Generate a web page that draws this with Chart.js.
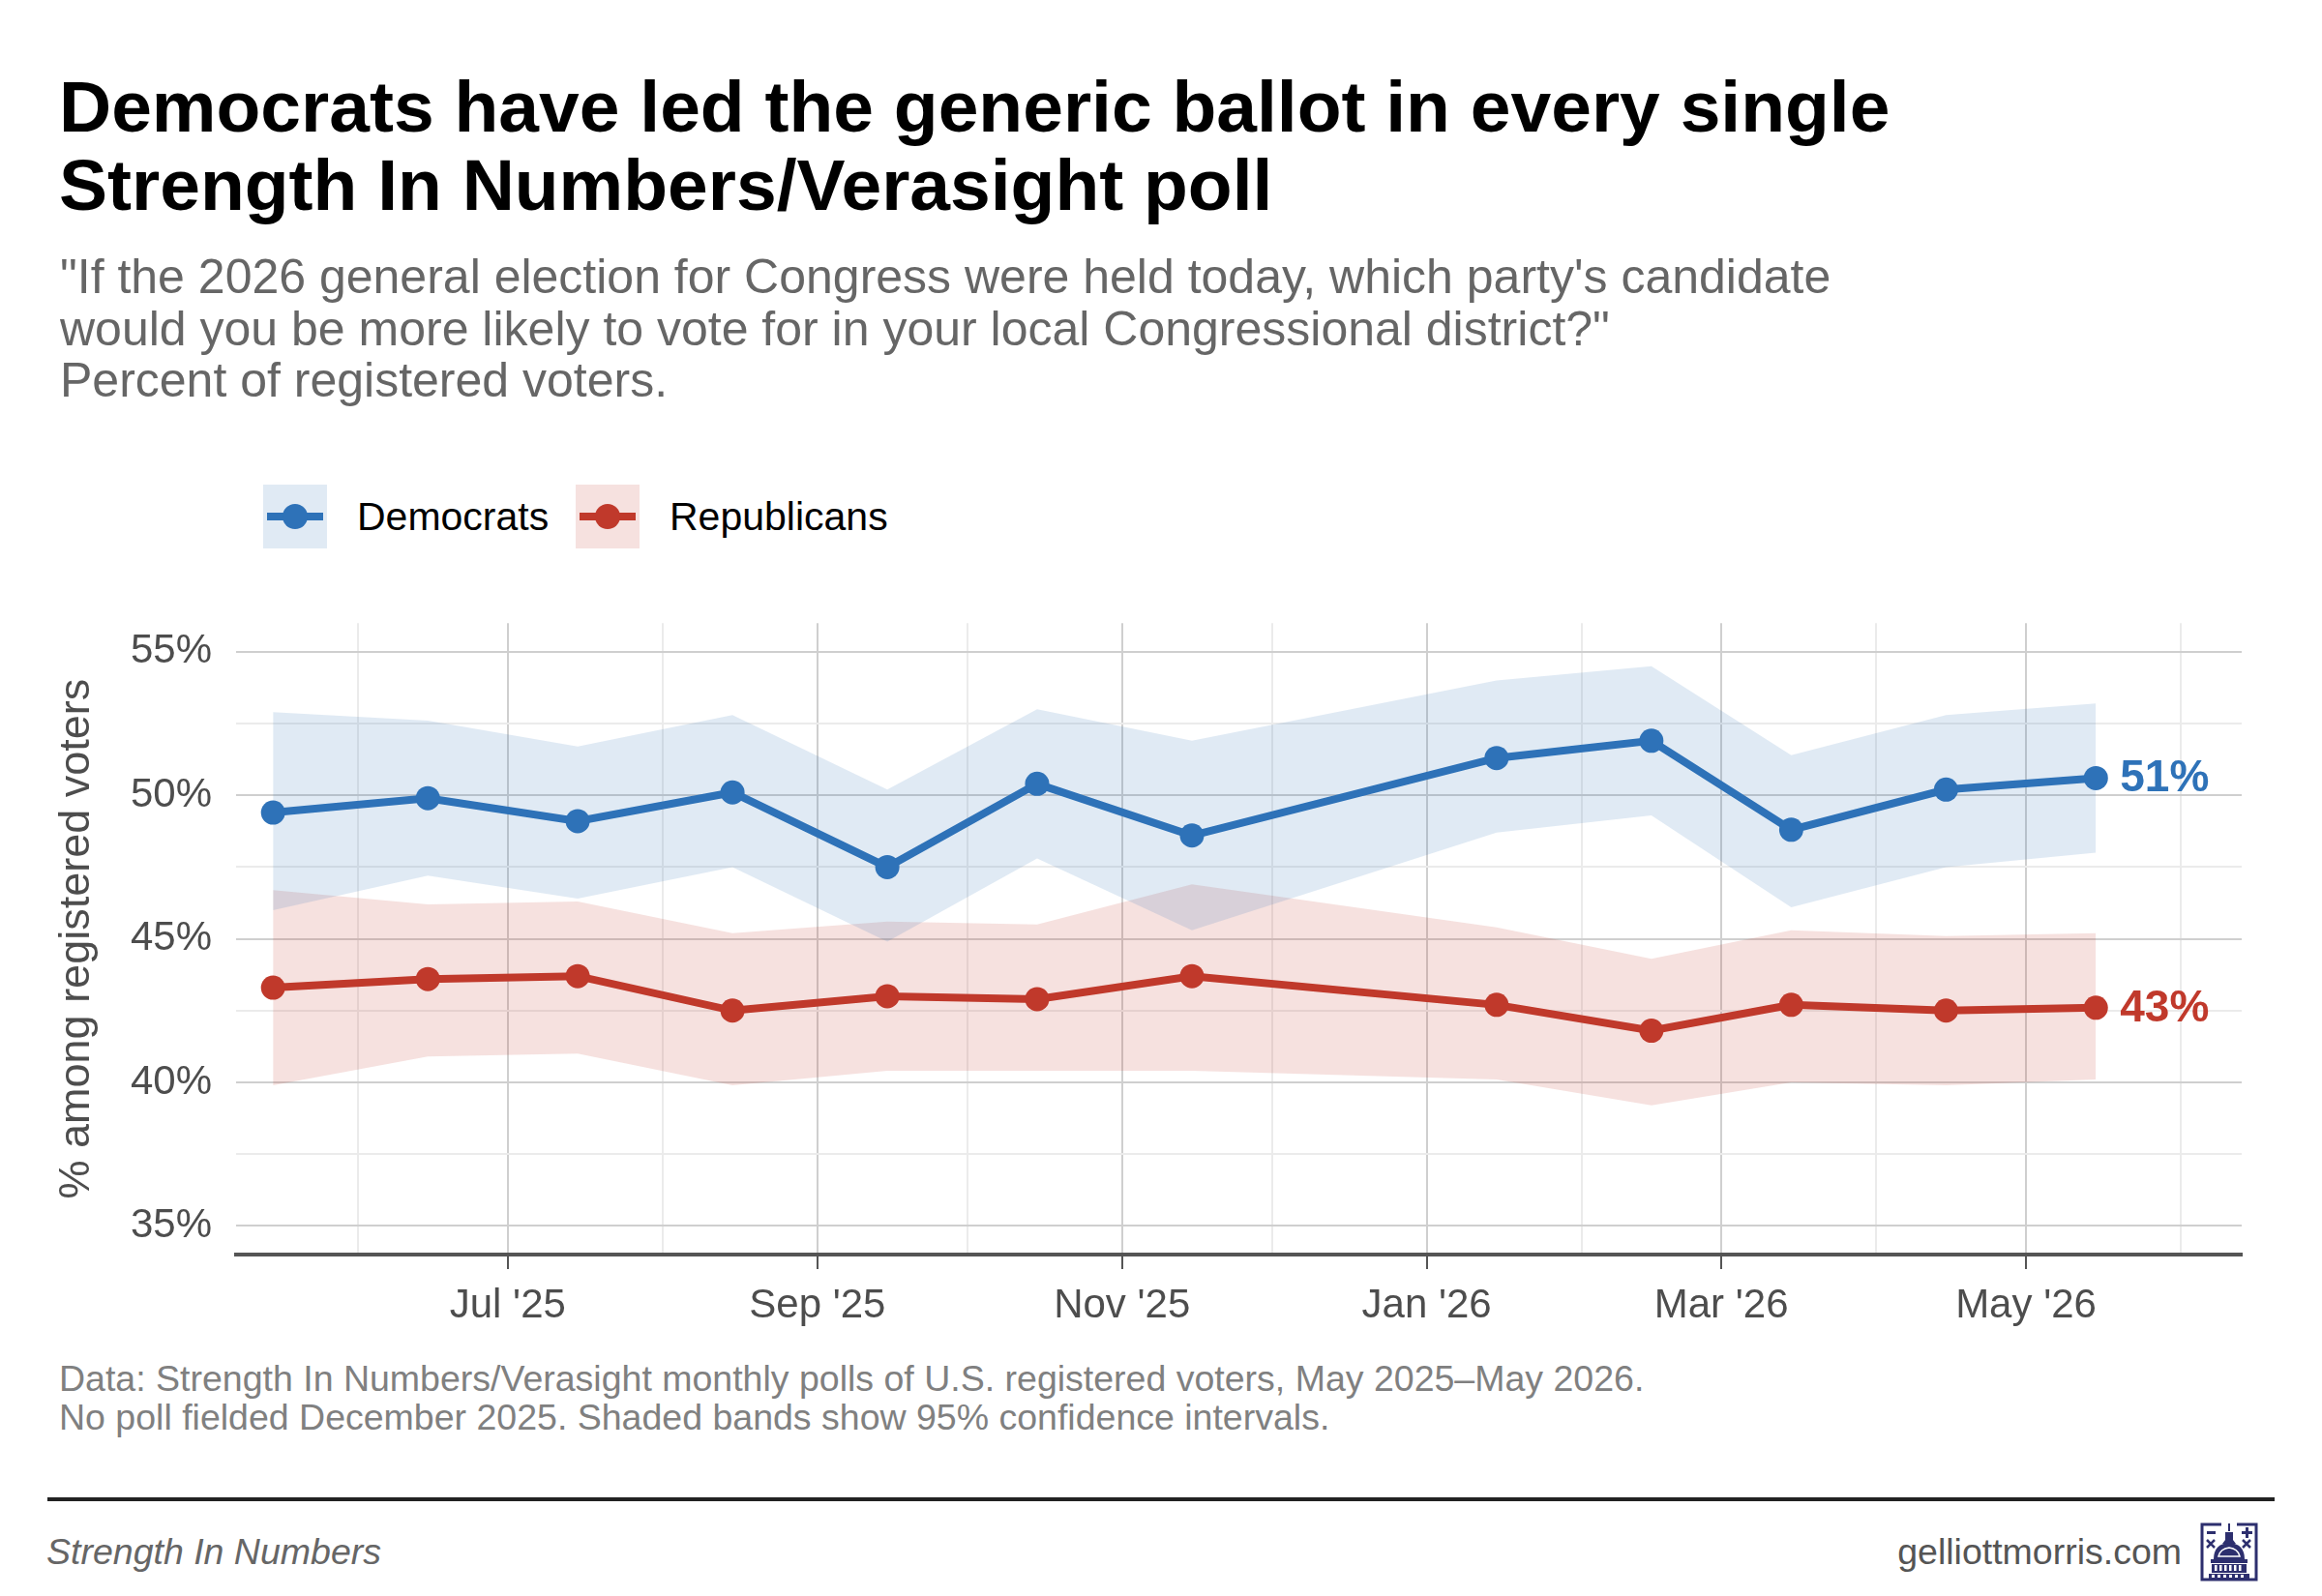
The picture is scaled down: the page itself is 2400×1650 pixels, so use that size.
<!DOCTYPE html>
<html>
<head>
<meta charset="utf-8">
<script src="https://cdn.jsdelivr.net/npm/chart.js@4.4.1/dist/chart.umd.min.js"></script>
<style>
html,body{margin:0;padding:0;background:#fff;}
body{width:2400px;height:1650px;position:relative;overflow:hidden;font-family:'Liberation Sans',Arial,Helvetica,sans-serif;}
#title{position:absolute;left:61px;top:70px;font-size:75px;line-height:81px;font-weight:bold;color:#000;white-space:nowrap;}
#subtitle{position:absolute;left:62px;top:260px;font-size:50px;line-height:53.5px;color:#666;white-space:nowrap;}
.key{position:absolute;top:501px;width:66px;height:66px;}
.key .ln{position:absolute;left:4px;top:29px;width:58px;height:8px;}
.key .dt{position:absolute;left:20px;top:20px;width:26px;height:26px;border-radius:50%;}
.ltxt{position:absolute;top:509px;font-size:41px;line-height:50px;color:#000;white-space:nowrap;}
#chartwrap{position:absolute;left:0;top:594px;width:2400px;height:806px;}
#chartwrap canvas{display:block;}
#caption{position:absolute;left:61px;top:1406px;font-size:37.5px;line-height:39.7px;color:#808080;white-space:nowrap;}
#rule{position:absolute;left:49px;top:1548px;width:2302px;height:4px;background:#222;}
#foot-l{position:absolute;left:48px;top:1584px;font-size:37.5px;line-height:41px;font-style:italic;color:#666;white-space:nowrap;}
#foot-r{position:absolute;right:145px;top:1584px;font-size:37.5px;line-height:41px;color:#555;white-space:nowrap;}
#logo{position:absolute;left:2274px;top:1574px;width:60px;height:61px;}
</style>
</head>
<body>
<div id="title">Democrats have led the generic ballot in every single<br>Strength In Numbers/Verasight poll</div>
<div id="subtitle">"If the 2026 general election for Congress were held today, which party's candidate<br>would you be more likely to vote for in your local Congressional district?"<br>Percent of registered voters.</div>

<div class="key" style="left:272px;background:rgba(46,114,184,0.15);"><div class="ln" style="background:#2E72B8"></div><div class="dt" style="background:#2E72B8"></div></div>
<div class="ltxt" style="left:369px;">Democrats</div>
<div class="key" style="left:595px;background:rgba(192,57,43,0.15);"><div class="ln" style="background:#C0392B"></div><div class="dt" style="background:#C0392B"></div></div>
<div class="ltxt" style="left:692px;">Republicans</div>

<div id="chartwrap"><canvas id="c" width="2400" height="806"></canvas></div>

<div id="caption">Data: Strength In Numbers/Verasight monthly polls of U.S. registered voters, May 2025–May 2026.<br>No poll fielded December 2025. Shaded bands show 95% confidence intervals.</div>
<div id="rule"></div>
<div id="foot-l">Strength In Numbers</div>
<div id="foot-r">gelliottmorris.com</div>
<svg id="logo" viewBox="0 0 60 61">
  <g fill="none" stroke="#2d2f6e" stroke-width="3">
    <path d="M22 2 H2 V59 H58 V2 H38"/>
  </g>
  <g fill="#2d2f6e">
    <rect x="7" y="9" width="9" height="3"/>
    <rect x="43" y="9" width="11" height="3"/><rect x="47" y="5" width="3" height="11"/>
    <path d="M7 18 l8 8 M15 18 l-8 8" stroke="#2d2f6e" stroke-width="2.5"/>
    <path d="M44 18 l8 8 M52 18 l-8 8" stroke="#2d2f6e" stroke-width="2.5"/>
    <rect x="29" y="1" width="2" height="8"/>
    <path d="M26 10 h8 v8 l3 4 h-14 l3 -4z"/>
    <path d="M14 38 Q14 22 30 21 Q46 22 46 38z"/>
    <rect x="11" y="38" width="38" height="4"/>
    <rect x="12" y="43" width="36" height="9"/>
    <rect x="9" y="53" width="42" height="5"/>
  </g>
  <g fill="#fff">
    <rect x="15" y="44" width="2.5" height="6"/><rect x="20" y="44" width="2.5" height="6"/><rect x="25" y="44" width="2.5" height="6"/><rect x="30" y="44" width="2.5" height="6"/><rect x="35" y="44" width="2.5" height="6"/><rect x="40" y="44" width="2.5" height="6"/>
    <rect x="12" y="54" width="3" height="3"/><rect x="18" y="54" width="3" height="3"/><rect x="24" y="54" width="3" height="3"/><rect x="30" y="54" width="3" height="3"/><rect x="36" y="54" width="3" height="3"/><rect x="42" y="54" width="3" height="3"/>
    <path d="M19 35 Q21 27 30 26 Q39 27 41 35z" fill="none" stroke="#fff" stroke-width="1.5"/>
  </g>
</svg>

<script>
// ---- data ----
const pollDates = ['2025-05-15','2025-06-15','2025-07-15','2025-08-15','2025-09-15','2025-10-15','2025-11-15','2026-01-15','2026-02-15','2026-03-15','2026-04-15','2026-05-15'];
const demPct  = [49.4, 49.9, 49.1, 50.1, 47.5, 50.4, 48.6, 51.3, 51.9, 48.8, 50.2, 50.6];
const demHigh = [52.9, 52.6, 51.7, 52.8, 50.2, 53.0, 51.9, 54.0, 54.5, 51.4, 52.8, 53.2];
const demLow  = [46.0, 47.2, 46.4, 47.5, 44.9, 47.8, 45.3, 48.7, 49.3, 46.1, 47.5, 48.0];
const repPct  = [43.3, 43.6, 43.7, 42.5, 43.0, 42.9, 43.7, 42.7, 41.8, 42.7, 42.5, 42.6];
const repHigh = [46.7, 46.2, 46.3, 45.2, 45.6, 45.5, 46.9, 45.4, 44.3, 45.3, 45.1, 45.2];
const repLow  = [39.9, 40.9, 41.0, 39.9, 40.4, 40.4, 40.4, 40.1, 39.2, 40.0, 39.9, 40.1];
const monthTicks = ['2025-06-01','2025-07-01','2025-08-01','2025-09-01','2025-10-01','2025-11-01','2025-12-01','2026-01-01','2026-02-01','2026-03-01','2026-04-01','2026-05-01','2026-06-01'];
const monthTickLabels = ['', "Jul '25", '', "Sep '25", '', "Nov '25", '', "Jan '26", '', "Mar '26", '', "May '26", ''];
const yTicks = [35, 37.5, 40, 42.5, 45, 47.5, 50, 52.5, 55];

const DEM = '#2E72B8', REP = '#C0392B';
const DEM_BAND = 'rgba(46,114,184,0.15)', REP_BAND = 'rgba(192,57,43,0.15)';
const FONT = "'Liberation Sans', Arial, Helvetica, sans-serif";

const dayNum = s => Date.parse(s + 'T00:00:00Z') / 86400000;
const pts = arr => arr.map((v, i) => ({x: dayNum(pollDates[i]), y: v}));
const tickLabelAt = v => {
  const i = monthTicks.findIndex(m => Math.abs(dayNum(m) - v) < 0.01);
  return i >= 0 ? monthTickLabels[i] : '';
};

Chart.defaults.font.family = FONT;

const endLabelPlugin = {
  id: 'endLabels',
  afterDatasetsDraw(chart) {
    const ctx = chart.ctx;
    chart.data.datasets.forEach((ds, i) => {
      if (!ds.endLabel) return;
      const meta = chart.getDatasetMeta(i);
      const el = meta.data[meta.data.length - 1];
      const v = ds.data[ds.data.length - 1].y;
      ctx.save();
      ctx.font = 'bold 46px ' + FONT;
      ctx.fillStyle = ds.borderColor;
      ctx.textAlign = 'left';
      ctx.textBaseline = 'middle';
      ctx.fillText(Math.round(v) + '%', el.x + 25, el.y + 1);
      ctx.restore();
    });
  }
};

const lineDs = (label, data, color) => ({
  label, data: pts(data), borderColor: color, backgroundColor: color,
  borderWidth: 8, pointRadius: 12.5, pointHoverRadius: 12.5, pointBorderWidth: 0,
  pointBackgroundColor: color, fill: false, tension: 0, endLabel: true
});
const bandDs = (label, data, color, fill) => ({
  label, data: pts(data), borderWidth: 0, borderColor: 'rgba(0,0,0,0)',
  pointRadius: 0, backgroundColor: color, fill: fill, tension: 0
});

new Chart(document.getElementById('c'), {
  type: 'line',
  data: {
    datasets: [
      lineDs('Democrats', demPct, DEM),
      lineDs('Republicans', repPct, REP),
      bandDs('Dem high', demHigh, DEM_BAND, '+1'),
      bandDs('Dem low', demLow, DEM_BAND, false),
      bandDs('Rep high', repHigh, REP_BAND, '+1'),
      bandDs('Rep low', repLow, REP_BAND, false)
    ]
  },
  options: {
    responsive: false,
    devicePixelRatio: 1,
    animation: false,
    events: [],
    layout: {padding: {top: 44, right: 83, bottom: 0, left: 0}},
    plugins: {legend: {display: false}, tooltip: {enabled: false}},
    scales: {
      x: {
        type: 'linear',
        min: dayNum('2025-05-08') - 0.4,
        max: dayNum('2026-06-13') + 0.2,
        afterBuildTicks: s => { s.ticks = monthTicks.map(m => ({value: dayNum(m)})); },
        afterFit: s => { s.height = 103; },
        grid: {
          color: c => tickLabelAt(c.tick.value) ? '#cfcfcf' : '#ebebeb',
          lineWidth: 2,
          drawTicks: true,
          tickLength: 15,
          tickWidth: 2,
          tickColor: c => tickLabelAt(c.tick.value) ? '#555' : 'rgba(0,0,0,0)'
        },
        border: {display: true, color: '#555', width: 4},
        ticks: {
          autoSkip: false, maxRotation: 0, padding: 13,
          color: '#4d4d4d', font: {size: 42},
          callback: v => tickLabelAt(v)
        }
      },
      y: {
        min: 34, max: 56,
        afterBuildTicks: s => { s.ticks = yTicks.map(v => ({value: v})); },
        afterFit: s => { s.width = 244; },
        grid: {
          color: c => (c.tick.value % 5 === 0) ? '#cfcfcf' : '#ebebeb',
          lineWidth: 2,
          drawTicks: false
        },
        border: {display: false},
        ticks: {
          padding: 25, color: '#4d4d4d', font: {size: 42},
          callback: v => (v % 5 === 0) ? v + '%' : ''
        },
        title: {
          display: true, text: '% among registered voters',
          color: '#4d4d4d', font: {size: 45}, padding: {top: 53, bottom: 0}
        }
      }
    }
  },
  plugins: [endLabelPlugin]
});
</script>
</body>
</html>
